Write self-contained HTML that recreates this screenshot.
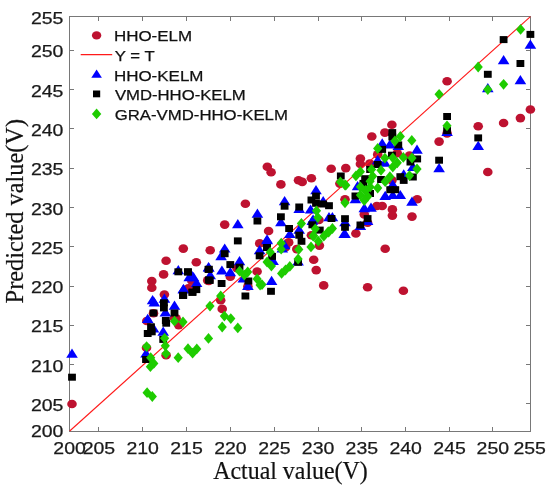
<!DOCTYPE html>
<html lang="en">
<head>
<meta charset="utf-8">
<title>Predicted vs Actual value</title>
<style>
html,body{margin:0;padding:0;background:#fff;}
body{width:550px;height:489px;overflow:hidden;}
svg{display:block;}
</style>
</head>
<body>
<svg width="550" height="489" viewBox="0 0 550 489">
<rect width="550" height="489" fill="#fff"/>
<g stroke="#787878" stroke-width="1" fill="none" shape-rendering="crispEdges">
<rect x="69.7" y="16.6" width="460.7" height="414.4"/>
<path d="M98.9 431.0v-4.5M98.9 16.6v4.5"/>
<path d="M142.7 431.0v-4.5M142.7 16.6v4.5"/>
<path d="M186.5 431.0v-4.5M186.5 16.6v4.5"/>
<path d="M230.4 431.0v-4.5M230.4 16.6v4.5"/>
<path d="M274.4 431.0v-4.5M274.4 16.6v4.5"/>
<path d="M318.1 431.0v-4.5M318.1 16.6v4.5"/>
<path d="M361.8 431.0v-4.5M361.8 16.6v4.5"/>
<path d="M405.7 431.0v-4.5M405.7 16.6v4.5"/>
<path d="M449.6 431.0v-4.5M449.6 16.6v4.5"/>
<path d="M492.8 431.0v-4.5M492.8 16.6v4.5"/>
<path d="M69.7 50.2h4.5M530.4 50.2h-4.5"/>
<path d="M69.7 89.5h4.5M530.4 89.5h-4.5"/>
<path d="M69.7 128.8h4.5M530.4 128.8h-4.5"/>
<path d="M69.7 168.1h4.5M530.4 168.1h-4.5"/>
<path d="M69.7 207.4h4.5M530.4 207.4h-4.5"/>
<path d="M69.7 246.7h4.5M530.4 246.7h-4.5"/>
<path d="M69.7 286h4.5M530.4 286h-4.5"/>
<path d="M69.7 325.3h4.5M530.4 325.3h-4.5"/>
<path d="M69.7 364.6h4.5M530.4 364.6h-4.5"/>
<path d="M69.7 403.9h4.5M530.4 403.9h-4.5"/>
</g>
<g font-family="'Liberation Sans', Arial, sans-serif" font-size="16" fill="#1a1a1a" stroke="#1a1a1a" stroke-width="0.25">
<text x="69.6" y="453.8" text-anchor="middle" textLength="32.5" lengthAdjust="spacingAndGlyphs">200</text>
<text x="98.9" y="453.8" text-anchor="middle" textLength="32.5" lengthAdjust="spacingAndGlyphs">205</text>
<text x="142.7" y="453.8" text-anchor="middle" textLength="32.5" lengthAdjust="spacingAndGlyphs">210</text>
<text x="186.5" y="453.8" text-anchor="middle" textLength="32.5" lengthAdjust="spacingAndGlyphs">215</text>
<text x="230.4" y="453.8" text-anchor="middle" textLength="32.5" lengthAdjust="spacingAndGlyphs">220</text>
<text x="274.4" y="453.8" text-anchor="middle" textLength="32.5" lengthAdjust="spacingAndGlyphs">225</text>
<text x="318.1" y="453.8" text-anchor="middle" textLength="32.5" lengthAdjust="spacingAndGlyphs">230</text>
<text x="361.8" y="453.8" text-anchor="middle" textLength="32.5" lengthAdjust="spacingAndGlyphs">235</text>
<text x="405.7" y="453.8" text-anchor="middle" textLength="32.5" lengthAdjust="spacingAndGlyphs">240</text>
<text x="449.6" y="453.8" text-anchor="middle" textLength="32.5" lengthAdjust="spacingAndGlyphs">245</text>
<text x="492.8" y="453.8" text-anchor="middle" textLength="32.5" lengthAdjust="spacingAndGlyphs">250</text>
<text x="529.7" y="453.8" text-anchor="middle" textLength="32.5" lengthAdjust="spacingAndGlyphs">255</text>
<text x="63.4" y="23.7" text-anchor="end" textLength="32.5" lengthAdjust="spacingAndGlyphs">255</text>
<text x="63.4" y="57.3" text-anchor="end" textLength="32.5" lengthAdjust="spacingAndGlyphs">250</text>
<text x="63.4" y="96.6" text-anchor="end" textLength="32.5" lengthAdjust="spacingAndGlyphs">245</text>
<text x="63.4" y="135.9" text-anchor="end" textLength="32.5" lengthAdjust="spacingAndGlyphs">240</text>
<text x="63.4" y="175.2" text-anchor="end" textLength="32.5" lengthAdjust="spacingAndGlyphs">235</text>
<text x="63.4" y="214.5" text-anchor="end" textLength="32.5" lengthAdjust="spacingAndGlyphs">230</text>
<text x="63.4" y="253.8" text-anchor="end" textLength="32.5" lengthAdjust="spacingAndGlyphs">225</text>
<text x="63.4" y="293.1" text-anchor="end" textLength="32.5" lengthAdjust="spacingAndGlyphs">220</text>
<text x="63.4" y="332.4" text-anchor="end" textLength="32.5" lengthAdjust="spacingAndGlyphs">215</text>
<text x="63.4" y="371.7" text-anchor="end" textLength="32.5" lengthAdjust="spacingAndGlyphs">210</text>
<text x="63.4" y="411" text-anchor="end" textLength="32.5" lengthAdjust="spacingAndGlyphs">205</text>
<text x="63.4" y="437.3" text-anchor="end" textLength="32.5" lengthAdjust="spacingAndGlyphs">200</text>
</g>
<g fill="#be1230">
<ellipse cx="530.4" cy="109.5" rx="4.8" ry="4.3"/>
<ellipse cx="520.4" cy="118.1" rx="4.8" ry="4.3"/>
<ellipse cx="503.6" cy="123" rx="4.8" ry="4.3"/>
<ellipse cx="478.2" cy="126.3" rx="4.8" ry="4.3"/>
<ellipse cx="447.1" cy="81.3" rx="4.8" ry="4.3"/>
<ellipse cx="447.1" cy="133.4" rx="4.8" ry="4.3"/>
<ellipse cx="439.1" cy="141.6" rx="4.8" ry="4.3"/>
<ellipse cx="487.8" cy="172" rx="4.8" ry="4.3"/>
<ellipse cx="417.2" cy="199.2" rx="4.8" ry="4.3"/>
<ellipse cx="412" cy="216.6" rx="4.8" ry="4.3"/>
<ellipse cx="391.9" cy="124.7" rx="4.8" ry="4.3"/>
<ellipse cx="384.9" cy="132.6" rx="4.8" ry="4.3"/>
<ellipse cx="371.8" cy="136.5" rx="4.8" ry="4.3"/>
<ellipse cx="377.7" cy="154.4" rx="4.8" ry="4.3"/>
<ellipse cx="397.3" cy="153.2" rx="4.8" ry="4.3"/>
<ellipse cx="409.5" cy="155.6" rx="4.8" ry="4.3"/>
<ellipse cx="360.4" cy="158.6" rx="4.8" ry="4.3"/>
<ellipse cx="360.4" cy="164" rx="4.8" ry="4.3"/>
<ellipse cx="369.8" cy="163.6" rx="4.8" ry="4.3"/>
<ellipse cx="345.8" cy="168.1" rx="4.8" ry="4.3"/>
<ellipse cx="391.9" cy="180.4" rx="4.8" ry="4.3"/>
<ellipse cx="376.8" cy="206" rx="4.8" ry="4.3"/>
<ellipse cx="382.2" cy="206" rx="4.8" ry="4.3"/>
<ellipse cx="392.4" cy="209.4" rx="4.8" ry="4.3"/>
<ellipse cx="392.4" cy="215.6" rx="4.8" ry="4.3"/>
<ellipse cx="364.3" cy="214.4" rx="4.8" ry="4.3"/>
<ellipse cx="367.6" cy="222.8" rx="4.8" ry="4.3"/>
<ellipse cx="355.9" cy="233.5" rx="4.8" ry="4.3"/>
<ellipse cx="385.2" cy="248.8" rx="4.8" ry="4.3"/>
<ellipse cx="345" cy="199.2" rx="4.8" ry="4.3"/>
<ellipse cx="313.7" cy="259.8" rx="4.8" ry="4.3"/>
<ellipse cx="316.2" cy="270.1" rx="4.8" ry="4.3"/>
<ellipse cx="323.7" cy="285.4" rx="4.8" ry="4.3"/>
<ellipse cx="367.6" cy="287.2" rx="4.8" ry="4.3"/>
<ellipse cx="403.4" cy="290.7" rx="4.8" ry="4.3"/>
<ellipse cx="319.4" cy="245.6" rx="4.8" ry="4.3"/>
<ellipse cx="296.8" cy="249.1" rx="4.8" ry="4.3"/>
<ellipse cx="288.7" cy="242.4" rx="4.8" ry="4.3"/>
<ellipse cx="267.3" cy="166.8" rx="4.8" ry="4.3"/>
<ellipse cx="271.1" cy="172.2" rx="4.8" ry="4.3"/>
<ellipse cx="280.9" cy="184.4" rx="4.8" ry="4.3"/>
<ellipse cx="298.5" cy="180.2" rx="4.8" ry="4.3"/>
<ellipse cx="302.2" cy="181.9" rx="4.8" ry="4.3"/>
<ellipse cx="311.4" cy="178.2" rx="4.8" ry="4.3"/>
<ellipse cx="331.2" cy="168.8" rx="4.8" ry="4.3"/>
<ellipse cx="339.9" cy="183.6" rx="4.8" ry="4.3"/>
<ellipse cx="268.6" cy="231" rx="4.8" ry="4.3"/>
<ellipse cx="285.5" cy="247.2" rx="4.8" ry="4.3"/>
<ellipse cx="319" cy="220" rx="4.8" ry="4.3"/>
<ellipse cx="311.4" cy="235.2" rx="4.8" ry="4.3"/>
<ellipse cx="245.4" cy="203.7" rx="4.8" ry="4.3"/>
<ellipse cx="224.7" cy="224.6" rx="4.8" ry="4.3"/>
<ellipse cx="259.7" cy="243.4" rx="4.8" ry="4.3"/>
<ellipse cx="183.3" cy="248.6" rx="4.8" ry="4.3"/>
<ellipse cx="210.2" cy="250.2" rx="4.8" ry="4.3"/>
<ellipse cx="196.3" cy="262.3" rx="4.8" ry="4.3"/>
<ellipse cx="257.1" cy="271.5" rx="4.8" ry="4.3"/>
<ellipse cx="230.3" cy="276.8" rx="4.8" ry="4.3"/>
<ellipse cx="207.7" cy="280.4" rx="4.8" ry="4.3"/>
<ellipse cx="191.8" cy="280.8" rx="4.8" ry="4.3"/>
<ellipse cx="188.4" cy="288.4" rx="4.8" ry="4.3"/>
<ellipse cx="247.9" cy="286.4" rx="4.8" ry="4.3"/>
<ellipse cx="220.7" cy="300.2" rx="4.8" ry="4.3"/>
<ellipse cx="222.2" cy="308.9" rx="4.8" ry="4.3"/>
<ellipse cx="237" cy="268.2" rx="4.8" ry="4.3"/>
<ellipse cx="166.1" cy="260.8" rx="4.8" ry="4.3"/>
<ellipse cx="163.6" cy="274.4" rx="4.8" ry="4.3"/>
<ellipse cx="151.8" cy="281.1" rx="4.8" ry="4.3"/>
<ellipse cx="151.8" cy="287.8" rx="4.8" ry="4.3"/>
<ellipse cx="164.4" cy="294.5" rx="4.8" ry="4.3"/>
<ellipse cx="153.5" cy="313.3" rx="4.8" ry="4.3"/>
<ellipse cx="208.8" cy="281" rx="4.8" ry="4.3"/>
<ellipse cx="174.5" cy="317.9" rx="4.8" ry="4.3"/>
<ellipse cx="176.1" cy="318.4" rx="4.8" ry="4.3"/>
<ellipse cx="178.7" cy="325.1" rx="4.8" ry="4.3"/>
<ellipse cx="146.8" cy="321" rx="4.8" ry="4.3"/>
<ellipse cx="146.5" cy="347.8" rx="4.8" ry="4.3"/>
<ellipse cx="166.1" cy="355.3" rx="4.8" ry="4.3"/>
<ellipse cx="72" cy="404" rx="4.8" ry="4.3"/>
</g>
<line x1="69.7" y1="431" x2="530.4" y2="16.6" stroke="#ff1a1a" stroke-width="1.1"/>
<g fill="#0000ff">
<path d="M530.4 39.5l5.8 9.2h-11.6z"/>
<path d="M503.6 55l5.8 9.2h-11.6z"/>
<path d="M520.4 75.1l5.8 9.2h-11.6z"/>
<path d="M487.8 83.1l5.8 9.2h-11.6z"/>
<path d="M447.1 126.8l5.8 9.2h-11.6z"/>
<path d="M478.2 140.8l5.8 9.2h-11.6z"/>
<path d="M439.1 163l5.8 9.2h-11.6z"/>
<path d="M417 144.6l5.8 9.2h-11.6z"/>
<path d="M412 196.6l5.8 9.2h-11.6z"/>
<path d="M382.2 138.3l5.8 9.2h-11.6z"/>
<path d="M389.9 139.2l5.8 9.2h-11.6z"/>
<path d="M398.3 140.8l5.8 9.2h-11.6z"/>
<path d="M377.7 155.1l5.8 9.2h-11.6z"/>
<path d="M384.9 157.6l5.8 9.2h-11.6z"/>
<path d="M412.9 161.8l5.8 9.2h-11.6z"/>
<path d="M403.7 169.3l5.8 9.2h-11.6z"/>
<path d="M392.8 179.4l5.8 9.2h-11.6z"/>
<path d="M357.6 181.1l5.8 9.2h-11.6z"/>
<path d="M385.2 190.8l5.8 9.2h-11.6z"/>
<path d="M392.8 189.9l5.8 9.2h-11.6z"/>
<path d="M400.3 189.9l5.8 9.2h-11.6z"/>
<path d="M355.4 194.1l5.8 9.2h-11.6z"/>
<path d="M364.3 203l5.8 9.2h-11.6z"/>
<path d="M371 202.5l5.8 9.2h-11.6z"/>
<path d="M367.6 215.9l5.8 9.2h-11.6z"/>
<path d="M360.4 220.9l5.8 9.2h-11.6z"/>
<path d="M345 228.7l5.8 9.2h-11.6z"/>
<path d="M345 217.1l5.8 9.2h-11.6z"/>
<path d="M289.8 228.9l5.8 9.2h-11.6z"/>
<path d="M344.2 228.8l5.8 9.2h-11.6z"/>
<path d="M298.1 256.4l5.8 9.2h-11.6z"/>
<path d="M316 185.1l5.8 9.2h-11.6z"/>
<path d="M284.6 196l5.8 9.2h-11.6z"/>
<path d="M323.2 196l5.8 9.2h-11.6z"/>
<path d="M299.2 203.8l5.8 9.2h-11.6z"/>
<path d="M310.6 204.4l5.8 9.2h-11.6z"/>
<path d="M329 212.1l5.8 9.2h-11.6z"/>
<path d="M332.4 212.1l5.8 9.2h-11.6z"/>
<path d="M313.1 214.4l5.8 9.2h-11.6z"/>
<path d="M280.9 217l5.8 9.2h-11.6z"/>
<path d="M299.2 224.6l5.8 9.2h-11.6z"/>
<path d="M267 234.4l5.8 9.2h-11.6z"/>
<path d="M312.3 215.8l5.8 9.2h-11.6z"/>
<path d="M284.6 240l5.8 9.2h-11.6z"/>
<path d="M257.4 208.6l5.8 9.2h-11.6z"/>
<path d="M237.8 219.1l5.8 9.2h-11.6z"/>
<path d="M267.1 235l5.8 9.2h-11.6z"/>
<path d="M224.7 243.4l5.8 9.2h-11.6z"/>
<path d="M221.1 251l5.8 9.2h-11.6z"/>
<path d="M259.6 245.1l5.8 9.2h-11.6z"/>
<path d="M239.5 256.1l5.8 9.2h-11.6z"/>
<path d="M208.5 262l5.8 9.2h-11.6z"/>
<path d="M221.9 265.4l5.8 9.2h-11.6z"/>
<path d="M230.3 267.1l5.8 9.2h-11.6z"/>
<path d="M210.2 270l5.8 9.2h-11.6z"/>
<path d="M191.7 270.2l5.8 9.2h-11.6z"/>
<path d="M189.2 272l5.8 9.2h-11.6z"/>
<path d="M193.5 272.1l5.8 9.2h-11.6z"/>
<path d="M196.6 277.7l5.8 9.2h-11.6z"/>
<path d="M183.5 283.9l5.8 9.2h-11.6z"/>
<path d="M247.9 280.8l5.8 9.2h-11.6z"/>
<path d="M243.3 273.4l5.8 9.2h-11.6z"/>
<path d="M271.6 275.8l5.8 9.2h-11.6z"/>
<path d="M273.1 255.8l5.8 9.2h-11.6z"/>
<path d="M282.3 243.2l5.8 9.2h-11.6z"/>
<path d="M178.3 265l5.8 9.2h-11.6z"/>
<path d="M183.3 284.2l5.8 9.2h-11.6z"/>
<path d="M152.6 295l5.8 9.2h-11.6z"/>
<path d="M154.3 297.2l5.8 9.2h-11.6z"/>
<path d="M164.4 293.5l5.8 9.2h-11.6z"/>
<path d="M174.5 300.6l5.8 9.2h-11.6z"/>
<path d="M165.4 307.3l5.8 9.2h-11.6z"/>
<path d="M147.7 313.8l5.8 9.2h-11.6z"/>
<path d="M208.8 262.5l5.8 9.2h-11.6z"/>
<path d="M163.2 326.6l5.8 9.2h-11.6z"/>
<path d="M153.5 323.3l5.8 9.2h-11.6z"/>
<path d="M146 348.4l5.8 9.2h-11.6z"/>
<path d="M72 348.6l5.8 9.2h-11.6z"/>
</g>
<g fill="#000">
<rect x="526.5" y="30.9" width="7.8" height="7"/>
<rect x="499.7" y="36.1" width="7.8" height="7"/>
<rect x="516.5" y="60" width="7.8" height="7"/>
<rect x="483.9" y="70.8" width="7.8" height="7"/>
<rect x="443.2" y="113" width="7.8" height="7"/>
<rect x="443.2" y="127.1" width="7.8" height="7"/>
<rect x="474.3" y="134.4" width="7.8" height="7"/>
<rect x="435.2" y="156.7" width="7.8" height="7"/>
<rect x="413.3" y="155.4" width="7.8" height="7"/>
<rect x="388.4" y="129.1" width="7.8" height="7"/>
<rect x="388.4" y="133.5" width="7.8" height="7"/>
<rect x="394.4" y="141.4" width="7.8" height="7"/>
<rect x="378.3" y="145.9" width="7.8" height="7"/>
<rect x="388" y="151.7" width="7.8" height="7"/>
<rect x="406.5" y="158.5" width="7.8" height="7"/>
<rect x="373.8" y="161" width="7.8" height="7"/>
<rect x="366.2" y="166" width="7.8" height="7"/>
<rect x="396.4" y="173.2" width="7.8" height="7"/>
<rect x="409" y="173.5" width="7.8" height="7"/>
<rect x="399.8" y="176.9" width="7.8" height="7"/>
<rect x="361.2" y="175.2" width="7.8" height="7"/>
<rect x="377.1" y="176" width="7.8" height="7"/>
<rect x="359.5" y="179.9" width="7.8" height="7"/>
<rect x="386.3" y="186.2" width="7.8" height="7"/>
<rect x="391.4" y="186.2" width="7.8" height="7"/>
<rect x="351.5" y="192.5" width="7.8" height="7"/>
<rect x="366.2" y="190" width="7.8" height="7"/>
<rect x="363.7" y="215.1" width="7.8" height="7"/>
<rect x="356.5" y="221.5" width="7.8" height="7"/>
<rect x="341.1" y="215.2" width="7.8" height="7"/>
<rect x="341.1" y="223.8" width="7.8" height="7"/>
<rect x="294.2" y="258.8" width="7.8" height="7"/>
<rect x="336.9" y="172.5" width="7.8" height="7"/>
<rect x="312.1" y="192.6" width="7.8" height="7"/>
<rect x="307.5" y="196.5" width="7.8" height="7"/>
<rect x="312.1" y="199.8" width="7.8" height="7"/>
<rect x="319.3" y="200.5" width="7.8" height="7"/>
<rect x="325.1" y="202.2" width="7.8" height="7"/>
<rect x="280.7" y="202.7" width="7.8" height="7"/>
<rect x="295.3" y="203.5" width="7.8" height="7"/>
<rect x="277" y="213.3" width="7.8" height="7"/>
<rect x="327.6" y="215" width="7.8" height="7"/>
<rect x="285.2" y="225" width="7.8" height="7"/>
<rect x="295.3" y="231.7" width="7.8" height="7"/>
<rect x="297.6" y="237.8" width="7.8" height="7"/>
<rect x="308.4" y="221.3" width="7.8" height="7"/>
<rect x="315.9" y="226.6" width="7.8" height="7"/>
<rect x="263.1" y="244" width="7.8" height="7"/>
<rect x="268.2" y="252.9" width="7.8" height="7"/>
<rect x="253.5" y="217.5" width="7.8" height="7"/>
<rect x="233.9" y="237.4" width="7.8" height="7"/>
<rect x="220.8" y="250.2" width="7.8" height="7"/>
<rect x="263.2" y="244" width="7.8" height="7"/>
<rect x="255.7" y="252.3" width="7.8" height="7"/>
<rect x="226.4" y="261.1" width="7.8" height="7"/>
<rect x="235.6" y="263.7" width="7.8" height="7"/>
<rect x="204.6" y="265.9" width="7.8" height="7"/>
<rect x="184.1" y="268.5" width="7.8" height="7"/>
<rect x="205.9" y="276.9" width="7.8" height="7"/>
<rect x="217.7" y="280" width="7.8" height="7"/>
<rect x="244.5" y="277.5" width="7.8" height="7"/>
<rect x="192.5" y="286.1" width="7.8" height="7"/>
<rect x="188.6" y="288.7" width="7.8" height="7"/>
<rect x="179.1" y="292" width="7.8" height="7"/>
<rect x="241.5" y="292.5" width="7.8" height="7"/>
<rect x="267.1" y="287.8" width="7.8" height="7"/>
<rect x="174.4" y="268.3" width="7.8" height="7"/>
<rect x="184" y="268.3" width="7.8" height="7"/>
<rect x="204.9" y="265.8" width="7.8" height="7"/>
<rect x="204.9" y="276.4" width="7.8" height="7"/>
<rect x="188.5" y="288.8" width="7.8" height="7"/>
<rect x="179.4" y="291.8" width="7.8" height="7"/>
<rect x="160" y="299.3" width="7.8" height="7"/>
<rect x="160" y="304.4" width="7.8" height="7"/>
<rect x="149.6" y="309.5" width="7.8" height="7"/>
<rect x="170.6" y="309.5" width="7.8" height="7"/>
<rect x="161.9" y="317" width="7.8" height="7"/>
<rect x="162.3" y="319.7" width="7.8" height="7"/>
<rect x="147.1" y="323.3" width="7.8" height="7"/>
<rect x="143.8" y="330" width="7.8" height="7"/>
<rect x="147.9" y="328.3" width="7.8" height="7"/>
<rect x="142.1" y="356" width="7.8" height="7"/>
<rect x="159.3" y="335.9" width="7.8" height="7"/>
<rect x="68.1" y="373.7" width="7.8" height="7"/>
</g>
<g fill="#1ecc00">
<path d="M520.6 24l4.6 5.4l-4.6 5.4l-4.6 -5.4z"/>
<path d="M478.2 61.6l4.6 5.4l-4.6 5.4l-4.6 -5.4z"/>
<path d="M503.6 78.9l4.6 5.4l-4.6 5.4l-4.6 -5.4z"/>
<path d="M487.8 84.2l4.6 5.4l-4.6 5.4l-4.6 -5.4z"/>
<path d="M439.1 88.9l4.6 5.4l-4.6 5.4l-4.6 -5.4z"/>
<path d="M447 120.4l4.6 5.4l-4.6 5.4l-4.6 -5.4z"/>
<path d="M411.8 135l4.6 5.4l-4.6 5.4l-4.6 -5.4z"/>
<path d="M412 152.6l4.6 5.4l-4.6 5.4l-4.6 -5.4z"/>
<path d="M417 163.6l4.6 5.4l-4.6 5.4l-4.6 -5.4z"/>
<path d="M400.3 131.1l4.6 5.4l-4.6 5.4l-4.6 -5.4z"/>
<path d="M394.9 135.6l4.6 5.4l-4.6 5.4l-4.6 -5.4z"/>
<path d="M377.7 143.1l4.6 5.4l-4.6 5.4l-4.6 -5.4z"/>
<path d="M384.9 152.7l4.6 5.4l-4.6 5.4l-4.6 -5.4z"/>
<path d="M392.8 152.4l4.6 5.4l-4.6 5.4l-4.6 -5.4z"/>
<path d="M403.3 152l4.6 5.4l-4.6 5.4l-4.6 -5.4z"/>
<path d="M397.3 157.4l4.6 5.4l-4.6 5.4l-4.6 -5.4z"/>
<path d="M392.8 161.6l4.6 5.4l-4.6 5.4l-4.6 -5.4z"/>
<path d="M381 164.9l4.6 5.4l-4.6 5.4l-4.6 -5.4z"/>
<path d="M371.5 164.1l4.6 5.4l-4.6 5.4l-4.6 -5.4z"/>
<path d="M360.4 166.3l4.6 5.4l-4.6 5.4l-4.6 -5.4z"/>
<path d="M355.9 170.5l4.6 5.4l-4.6 5.4l-4.6 -5.4z"/>
<path d="M372.7 170.8l4.6 5.4l-4.6 5.4l-4.6 -5.4z"/>
<path d="M389.9 171.3l4.6 5.4l-4.6 5.4l-4.6 -5.4z"/>
<path d="M409.5 170.2l4.6 5.4l-4.6 5.4l-4.6 -5.4z"/>
<path d="M385.2 176.3l4.6 5.4l-4.6 5.4l-4.6 -5.4z"/>
<path d="M370.1 175.8l4.6 5.4l-4.6 5.4l-4.6 -5.4z"/>
<path d="M345 179.6l4.6 5.4l-4.6 5.4l-4.6 -5.4z"/>
<path d="M360.4 181.4l4.6 5.4l-4.6 5.4l-4.6 -5.4z"/>
<path d="M370.1 181.6l4.6 5.4l-4.6 5.4l-4.6 -5.4z"/>
<path d="M377.7 182.6l4.6 5.4l-4.6 5.4l-4.6 -5.4z"/>
<path d="M365.4 185.1l4.6 5.4l-4.6 5.4l-4.6 -5.4z"/>
<path d="M360.4 189.7l4.6 5.4l-4.6 5.4l-4.6 -5.4z"/>
<path d="M367.6 191.1l4.6 5.4l-4.6 5.4l-4.6 -5.4z"/>
<path d="M364.3 195.1l4.6 5.4l-4.6 5.4l-4.6 -5.4z"/>
<path d="M345 197.4l4.6 5.4l-4.6 5.4l-4.6 -5.4z"/>
<path d="M281.2 237.8l4.6 5.4l-4.6 5.4l-4.6 -5.4z"/>
<path d="M281.2 243.8l4.6 5.4l-4.6 5.4l-4.6 -5.4z"/>
<path d="M298.8 244l4.6 5.4l-4.6 5.4l-4.6 -5.4z"/>
<path d="M298.1 253.6l4.6 5.4l-4.6 5.4l-4.6 -5.4z"/>
<path d="M289.8 261l4.6 5.4l-4.6 5.4l-4.6 -5.4z"/>
<path d="M285.5 264.6l4.6 5.4l-4.6 5.4l-4.6 -5.4z"/>
<path d="M281.6 268l4.6 5.4l-4.6 5.4l-4.6 -5.4z"/>
<path d="M311 241.5l4.6 5.4l-4.6 5.4l-4.6 -5.4z"/>
<path d="M318.3 235.8l4.6 5.4l-4.6 5.4l-4.6 -5.4z"/>
<path d="M313.6 230.4l4.6 5.4l-4.6 5.4l-4.6 -5.4z"/>
<path d="M323.8 230.8l4.6 5.4l-4.6 5.4l-4.6 -5.4z"/>
<path d="M328.7 226.6l4.6 5.4l-4.6 5.4l-4.6 -5.4z"/>
<path d="M340.4 176.5l4.6 5.4l-4.6 5.4l-4.6 -5.4z"/>
<path d="M345.8 179.8l4.6 5.4l-4.6 5.4l-4.6 -5.4z"/>
<path d="M316.5 205.4l4.6 5.4l-4.6 5.4l-4.6 -5.4z"/>
<path d="M317.8 212.1l4.6 5.4l-4.6 5.4l-4.6 -5.4z"/>
<path d="M301.4 218.1l4.6 5.4l-4.6 5.4l-4.6 -5.4z"/>
<path d="M315.3 223.4l4.6 5.4l-4.6 5.4l-4.6 -5.4z"/>
<path d="M332.4 223.1l4.6 5.4l-4.6 5.4l-4.6 -5.4z"/>
<path d="M328.2 226.4l4.6 5.4l-4.6 5.4l-4.6 -5.4z"/>
<path d="M313.1 230.6l4.6 5.4l-4.6 5.4l-4.6 -5.4z"/>
<path d="M270.3 246.8l4.6 5.4l-4.6 5.4l-4.6 -5.4z"/>
<path d="M267.1 256.6l4.6 5.4l-4.6 5.4l-4.6 -5.4z"/>
<path d="M271.4 260.7l4.6 5.4l-4.6 5.4l-4.6 -5.4z"/>
<path d="M262 279.2l4.6 5.4l-4.6 5.4l-4.6 -5.4z"/>
<path d="M239.5 265.8l4.6 5.4l-4.6 5.4l-4.6 -5.4z"/>
<path d="M247.7 266.6l4.6 5.4l-4.6 5.4l-4.6 -5.4z"/>
<path d="M244.3 269.7l4.6 5.4l-4.6 5.4l-4.6 -5.4z"/>
<path d="M257.1 273.5l4.6 5.4l-4.6 5.4l-4.6 -5.4z"/>
<path d="M260.1 279.7l4.6 5.4l-4.6 5.4l-4.6 -5.4z"/>
<path d="M220.7 290.6l4.6 5.4l-4.6 5.4l-4.6 -5.4z"/>
<path d="M210 300.7l4.6 5.4l-4.6 5.4l-4.6 -5.4z"/>
<path d="M224.4 310.7l4.6 5.4l-4.6 5.4l-4.6 -5.4z"/>
<path d="M230.8 313.2l4.6 5.4l-4.6 5.4l-4.6 -5.4z"/>
<path d="M222.2 321.6l4.6 5.4l-4.6 5.4l-4.6 -5.4z"/>
<path d="M237.8 322.5l4.6 5.4l-4.6 5.4l-4.6 -5.4z"/>
<path d="M208.5 333l4.6 5.4l-4.6 5.4l-4.6 -5.4z"/>
<path d="M183 316.6l4.6 5.4l-4.6 5.4l-4.6 -5.4z"/>
<path d="M174.5 315.8l4.6 5.4l-4.6 5.4l-4.6 -5.4z"/>
<path d="M164.6 332.8l4.6 5.4l-4.6 5.4l-4.6 -5.4z"/>
<path d="M165.3 340.4l4.6 5.4l-4.6 5.4l-4.6 -5.4z"/>
<path d="M166 348.3l4.6 5.4l-4.6 5.4l-4.6 -5.4z"/>
<path d="M146.6 341.2l4.6 5.4l-4.6 5.4l-4.6 -5.4z"/>
<path d="M188 343.3l4.6 5.4l-4.6 5.4l-4.6 -5.4z"/>
<path d="M196.8 343.5l4.6 5.4l-4.6 5.4l-4.6 -5.4z"/>
<path d="M192.6 347.8l4.6 5.4l-4.6 5.4l-4.6 -5.4z"/>
<path d="M178.2 352.3l4.6 5.4l-4.6 5.4l-4.6 -5.4z"/>
<path d="M150.7 352.3l4.6 5.4l-4.6 5.4l-4.6 -5.4z"/>
<path d="M153.8 358l4.6 5.4l-4.6 5.4l-4.6 -5.4z"/>
<path d="M150.4 361.3l4.6 5.4l-4.6 5.4l-4.6 -5.4z"/>
<path d="M147.1 387.3l4.6 5.4l-4.6 5.4l-4.6 -5.4z"/>
<path d="M152.3 391.1l4.6 5.4l-4.6 5.4l-4.6 -5.4z"/>
</g>
<ellipse cx="96.6" cy="35.4" rx="4.7" ry="4.2" fill="#be1230"/>
<line x1="80.7" y1="54.6" x2="112.2" y2="54.6" stroke="#ff1a1a" stroke-width="1.1"/>
<path d="M96.6 69.6l5.3 8.2h-10.6z" fill="#0000ff"/>
<rect x="93" y="90.5" width="7.2" height="6.8" fill="#000"/>
<path d="M96.6 108.6l4.7 5.3l-4.7 5.3l-4.7 -5.3z" fill="#1ecc00"/>
<g font-family="'Liberation Sans', Arial, sans-serif" font-size="15.2" fill="#111" stroke="#111" stroke-width="0.25">
<text x="113.9" y="41.4" textLength="78.2" lengthAdjust="spacingAndGlyphs">HHO-ELM</text>
<text x="114.8" y="60.9" textLength="39.8" lengthAdjust="spacingAndGlyphs">Y = T</text>
<text x="113.9" y="80.6" textLength="89.6" lengthAdjust="spacingAndGlyphs">HHO-KELM</text>
<text x="114.9" y="100.2" textLength="130.8" lengthAdjust="spacingAndGlyphs">VMD-HHO-KELM</text>
<text x="114.7" y="120.0" textLength="173.2" lengthAdjust="spacingAndGlyphs">GRA-VMD-HHO-KELM</text>
</g>
<g font-family="'Liberation Serif', 'Times New Roman', serif" font-size="24.8" fill="#111" stroke="#111" stroke-width="0.2">
<text x="213.2" y="478.8" textLength="154.6" lengthAdjust="spacingAndGlyphs">Actual value(V)</text>
<text transform="translate(22.9 303.4) rotate(-90)" textLength="184.4" lengthAdjust="spacingAndGlyphs">Predicted value(V)</text>
</g>
</svg>
</body>
</html>
